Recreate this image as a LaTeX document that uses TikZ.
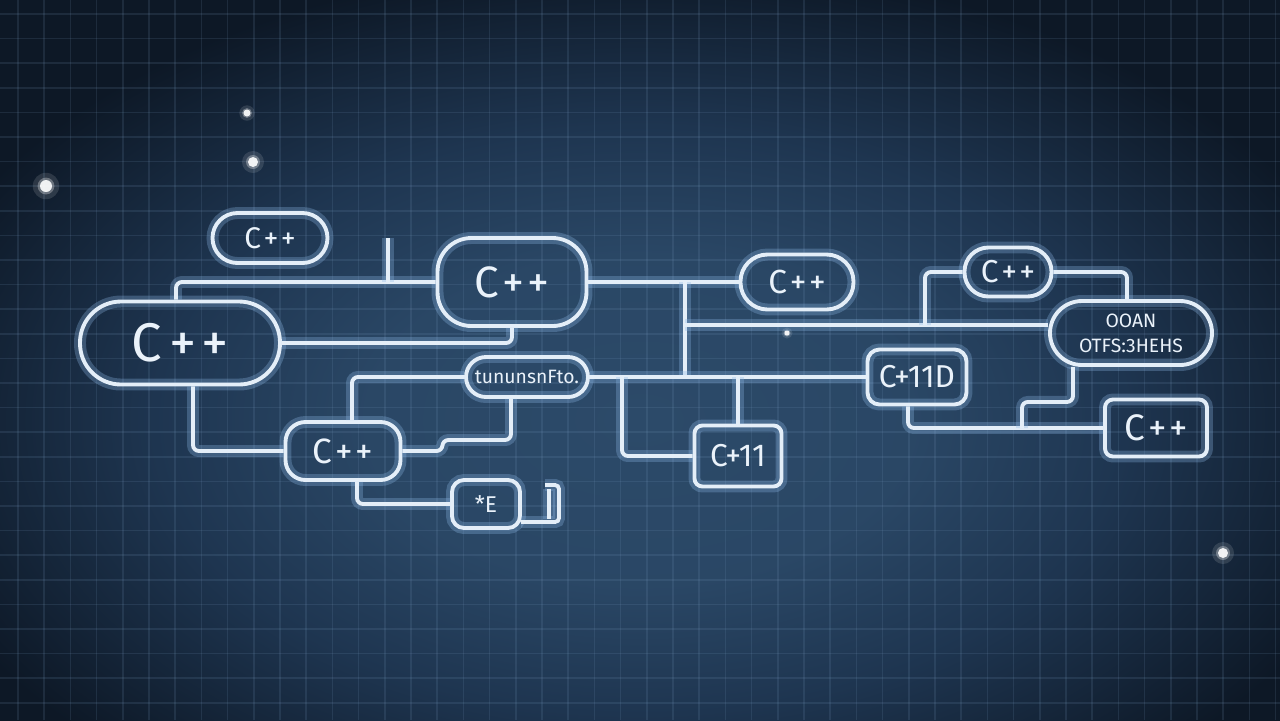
\documentclass[tikz,border=0pt]{standalone}
\usepackage{fontspec}
\setmainfont{Fira Sans}
\usepackage{tikz}

\definecolor{bgin}{HTML}{2C4A69}
\definecolor{bgmid}{HTML}{1E3550}
\definecolor{bgout}{HTML}{0D1826}
\definecolor{gridc}{HTML}{7A9CC0}
\definecolor{linec}{HTML}{E4EEF8}
\definecolor{glowc}{HTML}{8DB8E6}
\definecolor{textc}{HTML}{EAF2FA}
\pgfdeclareradialshading{bgshade}{\pgfpoint{0bp}{0bp}}{color(0bp)=(bgin); color(9bp)=(bgin!85!bgmid); color(16bp)=(bgmid); color(21bp)=(bgmid!45!bgout); color(25bp)=(bgout); color(50bp)=(bgout)}
\newcommand{\cpp}{C\kern.09em+\kern.07em+}

\begin{document}
\begin{tikzpicture}[x=0.1mm, y=-0.1mm,
    glow/.style={preaction={draw=glowc, line width=3.4pt, draw opacity=0.3}},
    wire/.style={draw=linec, line width=1.1pt, glow, rounded corners=0.6mm},
    box/.style={draw=linec, line width=1.1pt, glow, rectangle, rounded corners=#1, inner sep=0pt, text=textc, align=center},
    box/.default=2mm,
    gridline/.style={gridc, line width=0.5pt, opacity=0.15}]
    \useasboundingbox (0,0) rectangle (1280,720);
    \clip (0,0) rectangle (1280,720);
    \shade[shading=bgshade] (-120,-40) rectangle (1400,880);
    \foreach \gx in {18,44.2,...,1280} \draw[gridline] (\gx,0) -- (\gx,720);
    \foreach \gy in {14,38.6,...,720} \draw[gridline] (0,\gy) -- (1280,\gy);
    % glowing specks
    \foreach \px/\py/\pr in {46/186/6, 253/162/5, 247/113/3.5, 1223/553/5, 787/333/2.5} {
        \fill[white, opacity=0.12] (\px,\py) circle[radius=2.2*\pr];
        \fill[white, opacity=0.3] (\px,\py) circle[radius=1.4*\pr];
        \fill[white, opacity=0.9] (\px,\py) circle[radius=\pr];
    }
    \node[box=4.1mm, minimum width=20mm, minimum height=8.3mm, font=\fontsize{15.5}{16}\selectfont] (bigPill) at (180,343) {C\kern.14em+\kern.1em+};
    \node[box=2.5mm, minimum width=11.5mm, minimum height=5mm, font=\fontsize{8.5}{9}\selectfont] (topPill) at (270,238) {\cpp};
    \node[box=3.4mm, minimum width=14.9mm, minimum height=8.8mm, font=\fontsize{12.5}{13}\selectfont] (hubBox) at (512,282) {\cpp};
    \node[box=2.7mm, minimum width=11.3mm, minimum height=5.5mm, font=\fontsize{9.5}{10}\selectfont] (sidePill) at (797,282) {\cpp};
    \node[box=2mm, minimum width=12.2mm, minimum height=4mm, font=\fontsize{5.5}{6}\selectfont] (tagPill) at (527,377) {tununsnFto.};
    \node[box=2mm, minimum width=11.5mm, minimum height=5.8mm, font=\fontsize{10}{10}\selectfont] (midBox) at (343,451) {\cpp};
    \node[box=1.2mm, minimum width=6.8mm, minimum height=4.8mm, font=\fontsize{6.5}{7}\selectfont] (starBox) at (486,504) {*E};
    \node[box=0.8mm, minimum width=8.7mm, minimum height=6.1mm, font=\fontsize{9}{9}\selectfont] (lowBox) at (738,456) {C+11};
    \node[box=1.2mm, minimum width=9.9mm, minimum height=5.5mm, font=\fontsize{9}{9}\selectfont] (dBox) at (917,377) {C+11D};
    \node[box=2.4mm, minimum width=8.7mm, minimum height=4.9mm, font=\fontsize{9}{9}\selectfont] (keyPill) at (1008,272) {\cpp};
    \node[box=3.2mm, minimum width=16.2mm, minimum height=6.4mm, font=\fontsize{5.5}{7.1}\selectfont] (notePill) at (1131,333) {OOAN\\OTFS:3HEHS};
    \node[box=0.8mm, minimum width=10.2mm, minimum height=5.7mm, font=\fontsize{10.5}{11}\selectfont] (endBox) at (1156,428) {\cpp};
    \coordinate (stub) at (388,238);
    \coordinate (jTop) at (685,282);
    \coordinate (jMid) at (685,325);
    \coordinate (jKey) at (925,325);
    \coordinate (jLow) at (622,377);
    \coordinate (jEnd) at (1022,428);
    \draw[wire] ([xshift=-0.4mm]bigPill.north) |- (hubBox.west);
    \draw[wire] (stub) -- (stub |- hubBox.west);
    \draw[wire] (bigPill.east) -| (hubBox.south);
    \draw[wire] ([xshift=1.3mm]bigPill.south) |- (midBox.west);
    \draw[wire] ([xshift=0.9mm]midBox.north) |- (tagPill.west);
    \draw[wire] ([xshift=-1.6mm]tagPill.south) |- ([xshift=4mm,yshift=1.1mm]midBox.east) |- (midBox.east);
    \draw[wire] ([xshift=1.4mm]midBox.south) |- (starBox.west);
    \draw[wire, rounded corners=0.4mm] (545,485) -- (559,485) -- (559,522) -- (521,522);
    \draw[wire] (549,489) -- (549,519);
    \draw[wire] (hubBox.east) -- (sidePill.west);
    \draw[wire] (jTop) -- (jTop |- tagPill.east);
    \draw[wire] (jMid) -- (jMid -| notePill.west);
    \draw[wire] (jKey) |- (keyPill.west);
    \draw[wire] (keyPill.east) -| ([xshift=-0.4mm]notePill.north);
    \draw[wire] (tagPill.east) -- (dBox.west);
    \draw[wire] (lowBox.north) -- (lowBox.north |- tagPill.east);
    \draw[wire] (jLow) |- (lowBox.west);
    \draw[wire] ([xshift=-0.9mm]dBox.south) |- (endBox.west);
    \draw[wire] ([xshift=-5.8mm]notePill.south) -- ++(0,35) -| (jEnd);
\end{tikzpicture}
\end{document}
